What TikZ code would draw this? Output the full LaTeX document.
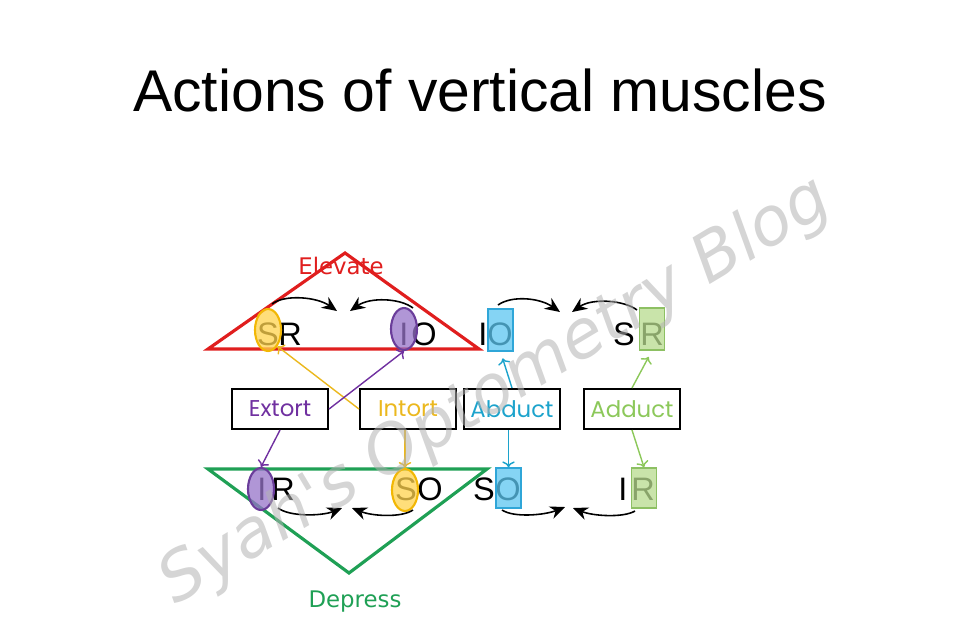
\documentclass[tikz,border=0pt]{standalone}
\usepackage{fontspec}
\setmainfont{Liberation Sans}
\newfontfamily\actfont{Poppins}
\newfontfamily\tagfont{DejaVu Sans}
\usetikzlibrary{shapes.geometric,arrows.meta}

\definecolor{elevred}{HTML}{E01E1E}
\definecolor{deprgreen}{HTML}{1FA055}
\definecolor{extpurple}{HTML}{7030A0}
\definecolor{intgold}{HTML}{EBB81E}
\definecolor{abdcyan}{HTML}{1CA3CC}
\definecolor{addgreen}{HTML}{8CC85A}
\definecolor{hlyel}{HTML}{FFD34E}
\definecolor{hlyeldark}{HTML}{F2B705}
\definecolor{hlpur}{HTML}{9673C8}
\definecolor{hlpurdark}{HTML}{6A3D9A}
\definecolor{hlcyan}{HTML}{5CC6F0}
\definecolor{hlcyandark}{HTML}{2FA6D8}
\definecolor{hlgreen}{HTML}{B7DB8E}
\definecolor{hlgreendark}{HTML}{8DC063}

\begin{document}
\begin{tikzpicture}[x=0.02cm,y=-0.02cm,
	mus/.style={anchor=base,inner sep=0pt,font=\fontsize{18.5}{18.5}\selectfont},
	act/.style={draw=black,line width=1.2pt,minimum width=1.92cm,minimum height=0.8cm,
		inner sep=0pt,font=\actfont\fontsize{13}{13}\selectfont},
	hl/.style={ellipse,inner sep=0pt,line width=1.2pt,fill opacity=0.75,
		minimum width=0.52cm,minimum height=0.84cm},
	hlbox/.style={rectangle,inner sep=0pt,line width=0.8pt,fill opacity=0.75,
		minimum width=0.5cm,minimum height=0.84cm},
	link/.style={->,line width=0.8pt},
	swing/.style={-{Stealth[length=3mm,width=2.6mm]},line width=0.9pt},
]

% frame %{{{2

	\useasboundingbox (0,0) rectangle (960,630);

% title %{{{2

	\node[anchor=base,font=\fontsize{33.5}{34}\selectfont] (title) at (480,111)
		{Actions of vertical muscles};

% triangles %{{{2

	\draw[elevred,line width=1.8pt] (208,349) -- (345,253) -- (479,349) -- cycle;
	\draw[deprgreen,line width=1.8pt] (208,469) -- (487,469) -- (349,573) -- cycle;

	\node[font=\tagfont\fontsize{13}{13}\selectfont,text=elevred] (elev) at (341,266) {Elevate};
	\node[font=\tagfont\fontsize{13}{13}\selectfont,text=deprgreen] (depr) at (355,602) {Depress};

% muscle letters %{{{2

	\foreach \n/\t/\x/\y in {s1/S/268/345, r1/R/290/345, i1/I/404/345, o1/O/424/345,
		i2/I/483/345, o2/O/500/345, s2/S/624/345, r2/R/652/345,
		i3/I/262/500, r3/R/283/500, s3/S/406/500, o3/O/430/500,
		s4/S/484/500, o4/O/508/500, i4/I/623/500, r4/R/643/500} {
		\node[mus] (m-\n) at (\x,\y) {\t};
	}

% highlights %{{{2

	\node[hl,draw=hlyeldark,fill=hlyel] (srHL) at (268,330) {};
	\node[hl,draw=hlpurdark,fill=hlpur] (ioHL) at (404,329) {};
	\node[hlbox,draw=hlcyandark,fill=hlcyan] (ioBox) at (500.5,330) {};
	\node[hlbox,draw=hlgreendark,fill=hlgreen] (srBox) at (652,329) {};

	\node[hl,draw=hlpurdark,fill=hlpur] (irHL) at (261,489) {};
	\node[hl,draw=hlyeldark,fill=hlyel] (soHL) at (405,490) {};
	\node[hlbox,draw=hlcyandark,fill=hlcyan,minimum height=0.8cm] (soBox) at (508.5,488) {};
	\node[hlbox,draw=hlgreendark,fill=hlgreen,minimum height=0.8cm] (irBox) at (644,488) {};

% actions %{{{2

	\node[act,text=extpurple] (extort) at (280,409) {Extort};
	\node[act,text=intgold] (intort) at (408,409) {Intort};
	\node[act,text=abdcyan] (abduct) at (512,409) {Abduct};
	\node[act,text=addgreen] (adduct) at (632,409) {Adduct};

% links %{{{2

	\draw[link,intgold] (intort.west) -- (srHL.-60);
	\draw[link,extpurple] (extort.east) -- (ioHL.south);
	\draw[link,extpurple] (extort.south) -- (irHL.north);
	\draw[link,intgold] (intort.south -| soHL) -- (soHL.north);

	\draw[link,abdcyan,shorten >=1.4mm] (abduct.north) -- (ioBox.south);
	\draw[link,abdcyan] (abduct.south -| soBox) -- (soBox.north);
	\draw[link,addgreen,shorten >=1.4mm] (adduct.north) -- (srBox.south);
	\draw[link,addgreen] (adduct.south) -- (irBox.north);

% swings %{{{2

	\foreach \n/\x/\y in {ua/272/304, ub/337/311, uc/413/308, ud/350/311,
		ue/498/305, uf/560/312, ug/637/310, uh/572/312,
		la/278/508, lb/342/508, lc/413/510, ld/352/508,
		le/502/510, lf/565/507, lg/635/511, lh/573/508} {
		\coordinate (\n) at (\x,\y);
	}

	\draw[swing] (ua) .. controls +(13,-10) and +(-20,-14) .. (ub);
	\draw[swing] (uc) .. controls +(-13,-10) and +(20,-14) .. (ud);
	\draw[swing] (ue) .. controls +(14,-10) and +(-20,-14) .. (uf);
	\draw[swing] (ug) .. controls +(-13,-10) and +(20,-14) .. (uh);

	\draw[swing] (la) .. controls +(12,9) and +(-20,8) .. (lb);
	\draw[swing] (lc) .. controls +(-12,8) and +(20,8) .. (ld);
	\draw[swing] (le) .. controls +(12,8) and +(-20,8) .. (lf);
	\draw[swing] (lg) .. controls +(-12,7) and +(20,8) .. (lh);

% watermark %{{{2

	\node[rotate=31,text=gray!60,opacity=0.55,font=\tagfont\itshape\fontsize{38}{38}\selectfont]
		(mark) at (496,392) {Syah's Optometry Blog};

\end{tikzpicture}
\end{document}
